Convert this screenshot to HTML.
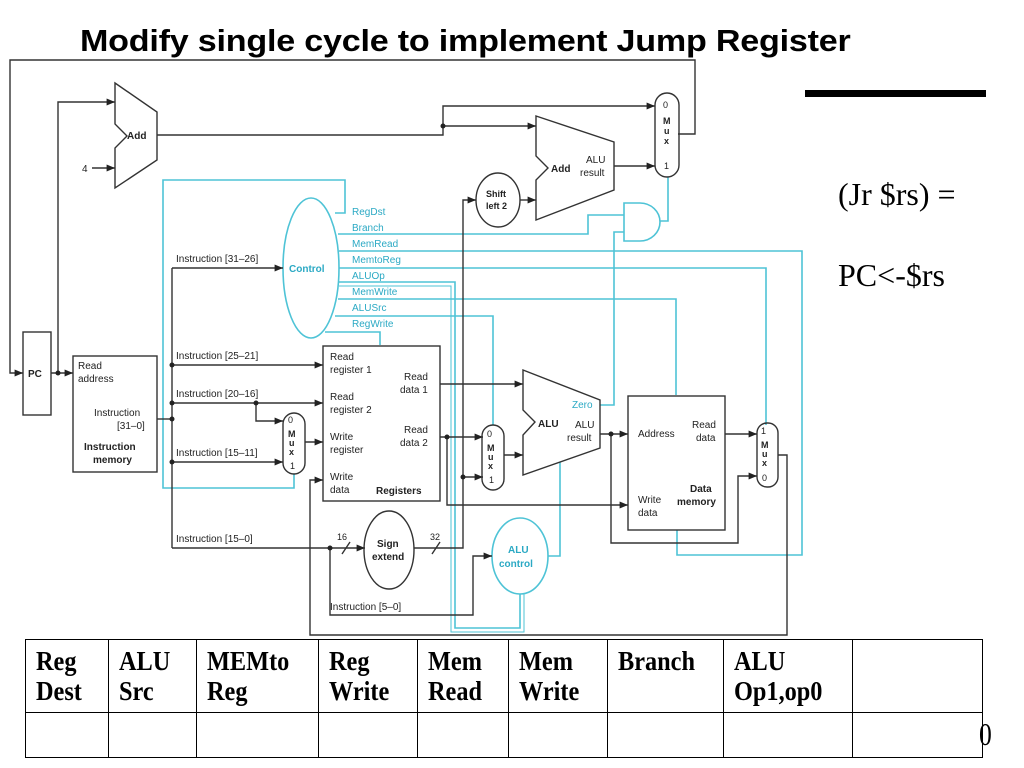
<!DOCTYPE html>
<html><head><meta charset="utf-8"><style>
body{margin:0;background:#fff;width:1024px;height:768px;overflow:hidden;position:relative;font-family:"Liberation Sans",sans-serif}
.t{position:absolute;left:80px;top:23px;font-size:31px;font-weight:bold;letter-spacing:-0.2px;color:#000;transform:scaleX(1.1);transform-origin:left}
.s{position:absolute;font-family:"Liberation Serif",serif;font-size:32px}
table{position:absolute;left:25px;top:639px;border-collapse:collapse;font-family:"Liberation Serif",serif;font-weight:bold;font-size:27px;line-height:30px}
td{border:1.5px solid #000;vertical-align:top;padding:6px 0 0 10px;box-sizing:border-box;white-space:nowrap}
td span{display:inline-block;transform:scaleX(0.9);transform-origin:left}
</style></head><body>
<div class="t">Modify single cycle to implement Jump Register</div>
<div style="position:absolute;left:805px;top:90px;width:181px;height:7px;background:#000"></div>
<div class="s" style="left:838px;top:176px">(Jr $rs) =</div>
<div class="s" style="left:838px;top:257px">PC&lt;-$rs</div>
<svg width="1024" height="640" style="position:absolute;left:0;top:0" font-family="Liberation Sans,sans-serif">
<defs><marker id="a" markerWidth="6" markerHeight="6" refX="6" refY="3" orient="auto"><path d="M0,0.5L6,3L0,5.5z" fill="#222"/></marker></defs>
<g fill="none" stroke="#4ec3d6" stroke-width="1.6">
<ellipse cx="311" cy="268" rx="28" ry="70"/>
<ellipse cx="520" cy="556" rx="28" ry="38"/>
<polyline points="335,213 345,213 345,180 163,180 163,488 294,488 294,474"/>
<polyline points="338,234 588,234 588,215 624,215"/>
<polyline points="339,251 802,251 802,555 677,555 677,530"/>
<polyline points="339,268 766,268 766,425"/>
<polyline points="339,282 455,282 455,628 520,628 520,594"/>
<polyline points="339,286 451,286 451,632 524,632 524,594" stroke-width="1"/>
<polyline points="338,299 676,299 676,395"/>
<polyline points="335,316 493,316 493,425"/>
<polyline points="325,332 380,332 380,345"/>
<polyline points="600,405 614,405 614,232 624,232"/>
<polyline points="660,221 668,221 668,177"/>
<path d="M624,203 H640 A20,19 0 0 1 640,241 H624 Z"/>
<polyline points="548,556 560,556 560,462"/>
</g>
<g fill="none" stroke="#333" stroke-width="1.4">
<polyline points="678,134 695,134 695,60 10,60 10,373 23,373" marker-end="url(#a)"/>
<line x1="51" y1="373" x2="73" y2="373" marker-end="url(#a)"/>
<polyline points="58,373 58,102 115,102" marker-end="url(#a)"/>
<line x1="92" y1="168" x2="115" y2="168" marker-end="url(#a)"/>
<polyline points="157,135 443,135 443,106 655,106" marker-end="url(#a)"/>
<line x1="443" y1="126" x2="536" y2="126" marker-end="url(#a)"/>
<line x1="614" y1="166" x2="655" y2="166" marker-end="url(#a)"/>
<line x1="520" y1="200" x2="536" y2="200" marker-end="url(#a)"/>
<polygon points="115,83 157,112 157,160 115,188 115,148 127,136 115,124"/>
<polygon points="536,116 614,142 614,190 536,220 536,180 548,168 536,156"/>
<rect x="655" y="93" width="24" height="84" rx="12"/>
<rect x="23" y="332" width="28" height="83"/>
<rect x="73" y="356" width="84" height="116"/>
<polyline points="157,419 172,419"/>
<line x1="172" y1="268" x2="172" y2="548"/>
<line x1="172" y1="268" x2="283" y2="268" marker-end="url(#a)"/>
<line x1="172" y1="365" x2="323" y2="365" marker-end="url(#a)"/>
<line x1="172" y1="403" x2="323" y2="403" marker-end="url(#a)"/>
<polyline points="256,403 256,421 283,421" marker-end="url(#a)"/>
<line x1="172" y1="462" x2="283" y2="462" marker-end="url(#a)"/>
<rect x="283" y="413" width="22" height="61" rx="11"/>
<line x1="305" y1="442" x2="323" y2="442" marker-end="url(#a)"/>
<rect x="323" y="346" width="117" height="155"/>
<polyline points="172,548 365,548" marker-end="url(#a)"/>
<ellipse cx="389" cy="550" rx="25" ry="39"/>
<polyline points="414,548 463,548 463,200 476,200" marker-end="url(#a)"/>
<ellipse cx="498" cy="200" rx="22" ry="27"/>
<polyline points="330,548 330,615 473,615 473,556 492,556" marker-end="url(#a)"/>
<line x1="440" y1="384" x2="523" y2="384" marker-end="url(#a)"/>
<line x1="440" y1="437" x2="483" y2="437" marker-end="url(#a)"/>
<polyline points="447,437 447,505 628,505" marker-end="url(#a)"/>
<line x1="463" y1="477" x2="483" y2="477" marker-end="url(#a)"/>
<rect x="482" y="425" width="22" height="65" rx="11"/>
<line x1="504" y1="455" x2="523" y2="455" marker-end="url(#a)"/>
<polygon points="523,370 600,400 600,448 523,475 523,435 535,422 523,410"/>
<line x1="600" y1="434" x2="628" y2="434" marker-end="url(#a)"/>
<polyline points="611,434 611,543 738,543 738,476 757,476" marker-end="url(#a)"/>
<rect x="628" y="396" width="97" height="134"/>
<line x1="725" y1="434" x2="757" y2="434" marker-end="url(#a)"/>
<rect x="757" y="423" width="21" height="64" rx="10"/>
<polyline points="778,455 787,455 787,635 310,635 310,480 323,480" marker-end="url(#a)"/>
<line x1="342" y1="554" x2="350" y2="542"/>
<line x1="432" y1="554" x2="440" y2="542"/>
</g>
<g fill="#222">
<circle cx="58" cy="373" r="2.5"/><circle cx="443" cy="126" r="2.5"/>
<circle cx="172" cy="365" r="2.5"/><circle cx="172" cy="403" r="2.5"/><circle cx="172" cy="419" r="2.5"/><circle cx="172" cy="462" r="2.5"/>
<circle cx="256" cy="403" r="2.5"/><circle cx="330" cy="548" r="2.5"/><circle cx="447" cy="437" r="2.5"/>
<circle cx="463" cy="477" r="2.5"/><circle cx="611" cy="434" r="2.5"/>
</g>
<g font-size="10" fill="#222">
<text x="127" y="139" font-weight="bold">Add</text>
<text x="82" y="172">4</text>
<text x="551" y="172" font-weight="bold">Add</text>
<text x="586" y="163">ALU</text><text x="580" y="176">result</text>
<text x="663" y="108" font-size="9">0</text>
<text x="663" y="124" font-size="9" font-weight="bold">M</text><text x="664" y="134" font-size="9" font-weight="bold">u</text><text x="664" y="144" font-size="9" font-weight="bold">x</text>
<text x="664" y="169" font-size="9">1</text>
<text x="486" y="197" font-weight="bold" font-size="9">Shift</text><text x="486" y="209" font-weight="bold" font-size="9">left 2</text>
<text x="28" y="377" font-weight="bold">PC</text>
<text x="78" y="369">Read</text><text x="78" y="382">address</text>
<text x="94" y="416">Instruction</text><text x="117" y="429">[31–0]</text>
<text x="84" y="450" font-weight="bold">Instruction</text><text x="93" y="463" font-weight="bold">memory</text>
<text x="176" y="262">Instruction [31–26]</text>
<text x="176" y="359">Instruction [25–21]</text>
<text x="176" y="397">Instruction [20–16]</text>
<text x="176" y="456">Instruction [15–11]</text>
<text x="176" y="542">Instruction [15–0]</text>
<text x="330" y="610">Instruction [5–0]</text>
<text x="288" y="423" font-size="9">0</text>
<text x="288" y="437" font-size="9" font-weight="bold">M</text><text x="289" y="446" font-size="9" font-weight="bold">u</text><text x="289" y="455" font-size="9" font-weight="bold">x</text><text x="290" y="469" font-size="9">1</text>
<text x="330" y="360">Read</text><text x="330" y="373">register 1</text>
<text x="330" y="400">Read</text><text x="330" y="413">register 2</text>
<text x="330" y="440">Write</text><text x="330" y="453">register</text>
<text x="330" y="480">Write</text><text x="330" y="493">data</text>
<text x="404" y="380">Read</text><text x="400" y="393">data 1</text>
<text x="404" y="433">Read</text><text x="400" y="446">data 2</text>
<text x="376" y="494" font-weight="bold">Registers</text>
<text x="337" y="540" font-size="9">16</text><text x="430" y="540" font-size="9">32</text>
<text x="377" y="547" font-weight="bold">Sign</text><text x="372" y="560" font-weight="bold">extend</text>
<text x="487" y="437" font-size="9">0</text>
<text x="487" y="451" font-size="9" font-weight="bold">M</text><text x="488" y="460" font-size="9" font-weight="bold">u</text><text x="488" y="469" font-size="9" font-weight="bold">x</text><text x="489" y="483" font-size="9">1</text>
<text x="538" y="427" font-weight="bold">ALU</text>
<text x="575" y="428">ALU</text><text x="567" y="441">result</text>
<text x="638" y="437">Address</text>
<text x="692" y="428">Read</text><text x="696" y="441">data</text>
<text x="638" y="503">Write</text><text x="638" y="516">data</text>
<text x="690" y="492" font-weight="bold">Data</text><text x="677" y="505" font-weight="bold">memory</text>
<text x="761" y="434" font-size="9">1</text>
<text x="761" y="448" font-size="9" font-weight="bold">M</text><text x="762" y="457" font-size="9" font-weight="bold">u</text><text x="762" y="466" font-size="9" font-weight="bold">x</text><text x="762" y="481" font-size="9">0</text>
</g>
<g font-size="10" fill="#2ba9c4">
<text x="289" y="272" font-weight="bold">Control</text>
<text x="352" y="215">RegDst</text><text x="352" y="231">Branch</text><text x="352" y="247">MemRead</text>
<text x="352" y="263">MemtoReg</text><text x="352" y="279">ALUOp</text><text x="352" y="295">MemWrite</text>
<text x="352" y="311">ALUSrc</text><text x="352" y="327">RegWrite</text>
<text x="572" y="408">Zero</text>
<text x="508" y="553" font-weight="bold">ALU</text><text x="499" y="567" font-weight="bold">control</text>
</g>
</svg>
<table>
<tr style="height:73px"><td style="width:83px"><span>Reg<br>Dest</span></td><td style="width:88px"><span>ALU<br>Src</span></td><td style="width:122px"><span>MEMto<br>Reg</span></td><td style="width:99px"><span>Reg<br>Write</span></td><td style="width:91px"><span>Mem<br>Read</span></td><td style="width:99px"><span>Mem<br>Write</span></td><td style="width:116px"><span>Branch</span></td><td style="width:129px"><span>ALU<br>Op1,op0</span></td><td style="width:130px"></td></tr>
<tr style="height:45px"><td></td><td></td><td></td><td></td><td></td><td></td><td></td><td></td><td></td></tr>
</table>
<div class="s" style="left:979px;top:716px;transform:scaleX(0.8);transform-origin:left">0</div>
</body></html>
